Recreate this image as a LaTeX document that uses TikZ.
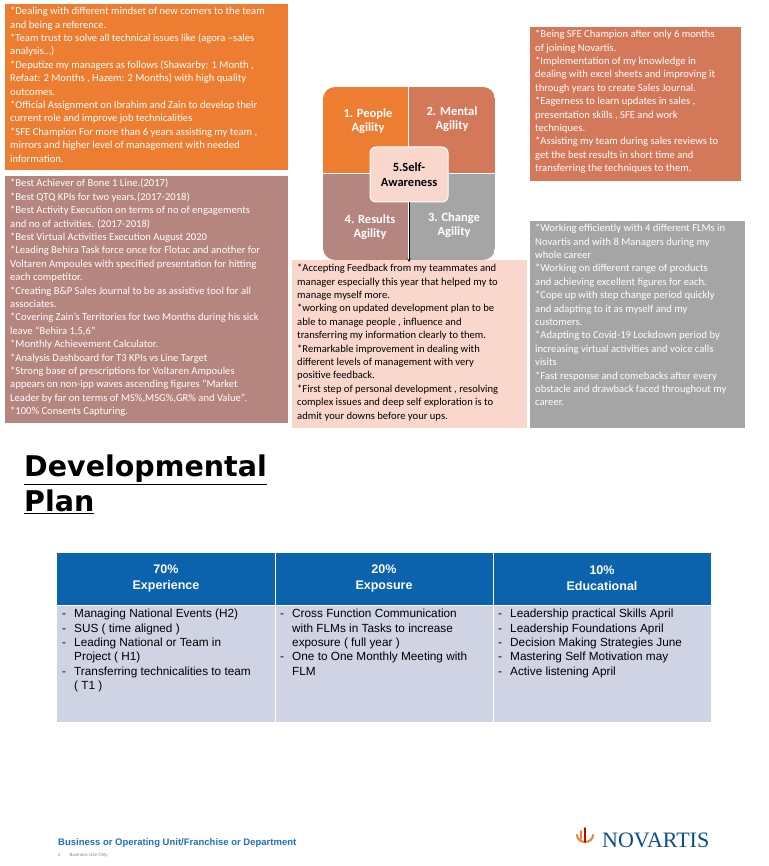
\documentclass[tikz,border=0pt]{standalone}
\usepackage{fontspec}
\setmainfont{Carlito}
\newfontfamily\arial{Liberation Sans}
\newfontfamily\dejavu{DejaVu Sans}
\definecolor{corange}{HTML}{ED7D31}
\definecolor{cmauve}{HTML}{B5857F}
\definecolor{csalmon}{HTML}{D4785A}
\definecolor{cgray}{HTML}{A5A5A5}
\definecolor{cpink}{HTML}{F9D7CC}
\definecolor{cblue}{HTML}{0B63AD}
\definecolor{cbody}{HTML}{CFD3E4}
\definecolor{cfoot}{HTML}{1F6FC0}
\newcommand{\dsh}{\makebox[12pt][l]{-}}
\newcommand{\nodsh}{\hspace*{12pt}}
\tikzset{
 btext/.style={anchor=north west,inner sep=0pt,align=left,font=\fontsize{10.6}{13.4}\selectfont},
 quad/.style={font=\bfseries\fontsize{12.5}{14.5}\selectfont,white,align=center},
 cell/.style={anchor=north west,inner sep=0pt,align=left,font=\arial\fontsize{11.8}{14.4}\selectfont},
 head/.style={font=\arial\bfseries\fontsize{12.5}{16}\selectfont,white,align=center}
}
\begin{document}
\begin{tikzpicture}[x=1pt,y=-1pt]
\useasboundingbox (0,0) rectangle (768,866);
% left boxes
\fill[corange] (5,4) rectangle (288,170);
\node[btext,white] (t1) at (10,7) {*Dealing with different mindset of new comers to the team\\and being a reference.\\*Team trust to solve all technical issues like (agora --sales\\analysis…)\\*Deputize my managers as follows (Shawarby: 1 Month ,\\Refaat: 2 Months , Hazem: 2 Months) with high quality\\outcomes.\\*Official Assignment on Ibrahim and Zain to develop their\\current role and improve job technicalities\\*SFE Champion For more than 6 years assisting my team ,\\mirrors and higher level of management with needed\\information.};
\fill[cmauve] (5,176) rectangle (288,423);
\node[btext,white] (t2) at (10,179) {*Best Achiever of Bone 1 Line.(2017)\\*Best QTQ KPIs for two years.(2017-2018)\\*Best Activity Execution on terms of no of engagements\\and no of activities. (2017-2018)\\*Best Virtual Activities Execution August 2020\\*Leading Behira Task force once for Flotac and another for\\Voltaren Ampoules with specified presentation for hitting\\each competitor.\\*Creating B\&P Sales Journal to be as assistive tool for all\\associates.\\*Covering Zain’s Territories for two Months during his sick\\leave “Behira 1,5,6”\\*Monthly Achievement Calculator.\\*Analysis Dashboard for T3 KPIs vs Line Target\\*Strong base of prescriptions for Voltaren Ampoules\\appears on non-ipp waves ascending figures “Market\\Leader by far on terms of MS\%,MSG\%,GR\% and Value”.\\*100\% Consents Capturing.};
% right boxes
\fill[csalmon] (530,27) rectangle (741,181);
\node[btext,white] (t3) at (535,30) {*Being SFE Champion after only 6 months\\of joining Novartis.\\*Implementation of my knowledge in\\dealing with excel sheets and improving it\\through years to create Sales Journal.\\*Eagerness to learn updates in sales ,\\presentation skills , SFE and work\\techniques.\\*Assisting my team during sales reviews to\\get the best results in short time and\\transferring the techniques to them.};
\fill[cgray] (530,221) rectangle (745,428);
\node[btext,white] (t4) at (535,224) {*Working efficiently with 4 different FLMs in\\Novartis and with 8 Managers during my\\whole career\\*Working on different range of products\\and achieving excellent figures for each.\\*Cope up with step change period quickly\\and adapting to it as myself and my\\customers.\\*Adapting to Covid-19 Lockdown period by\\increasing virtual activities and voice calls\\visits\\*Fast response and comebacks after every\\obstacle and drawback faced throughout my\\career.};
\fill[cpink] (292,260) rectangle (527,428);
\node[btext,black] (t5) at (297,264) {*Accepting Feedback from my teammates and\\manager especially this year that helped my to\\manage myself more.\\*working on updated development plan to be\\able to manage people , influence and\\transferring my information clearly to them.\\*Remarkable improvement in dealing with\\different levels of management with very\\positive feedback.\\*First step of personal development , resolving\\complex issues and deep self exploration is to\\admit your downs before your ups.};
% quadrant
\begin{scope}
\clip[rounded corners=12pt] (323,87) rectangle (495,260);
\fill[corange] (323,87) rectangle (408,174);
\fill[csalmon] (408,87) rectangle (495,174);
\fill[cmauve] (323,174) rectangle (408,260);
\fill[cgray] (408,174) rectangle (495,260);
\draw[white,line width=1pt] (408,87) -- (408,260) (323,174) -- (495,174);
\end{scope}
\node[quad] (q1) at (368,121) {1. People\\Agility};
\node[quad] (q2) at (452,119) {2. Mental\\Agility};
\node[quad] (q4) at (370,227) {4. Results\\Agility};
\node[quad] (q3) at (454,225) {3. Change\\Agility};
\node[draw=white,line width=1pt,fill=cpink,rounded corners=6pt,minimum width=78pt,minimum height=55pt,font=\bfseries\fontsize{12.5}{14.5}\selectfont,align=center] (c) at (409,174.5) {5.Self-\\Awareness};
\coordinate (ae) at (409,262);
\draw[-stealth,black,line width=0.6pt] (c.south) -- (ae);
% title
\node[anchor=north west,inner sep=0pt,align=left,font=\dejavu\bfseries\fontsize{28.5}{35}\selectfont] (title) at (24,455) {\underline{Developmental}\\\underline{Plan}};
% table
\fill[cblue] (57,553) rectangle (711,605);
\fill[cbody] (57,605) rectangle (711,722);
\draw[white,line width=1pt] (275,553) -- (275,722) (493,553) -- (493,722) (57,605) -- (711,605);
\node[head] (h1) at (166,578) {70\%\\Experience};
\node[head] (h2) at (384,578) {20\%\\Exposure};
\node[head] (h3) at (602,578) {10\%\\Educational};
\node[cell] (c1) at (62,609) {\dsh Managing National Events (H2)\\\dsh SUS ( time aligned )\\\dsh Leading National or Team in\\\nodsh Project ( H1)\\\dsh Transferring technicalities to team\\\nodsh ( T1 )};
\node[cell] (c2) at (280,609) {\dsh Cross Function Communication\\\nodsh with FLMs in Tasks to increase\\\nodsh exposure ( full year )\\\dsh One to One Monthly Meeting with\\\nodsh FLM};
\node[cell] (c3) at (498,609) {\dsh Leadership practical Skills April\\\dsh Leadership Foundations April\\\dsh Decision Making Strategies June\\\dsh Mastering Self Motivation may\\\dsh Active listening April};
% footer
\node[anchor=west,inner sep=0pt,text=cfoot,font=\arial\bfseries\fontsize{9.5}{10}\selectfont] (f1) at (58,843) {Business or Operating Unit/Franchise or Department};
\node[anchor=west,inner sep=0pt,text=gray,font=\arial\fontsize{4.5}{5}\selectfont] (f2) at (58,855) {2\qquad Business Use Only};
\node[anchor=west,inner sep=0pt,text=cblue!80!black,font=\fontspec{Liberation Serif}\fontsize{22}{24}\selectfont] (nv) at (602,840) {NOVARTIS};
\draw[corange,line width=2pt,line cap=round] (577,835) arc (180:360:8pt and 7pt);
\draw[red!80!black,line width=1.8pt,line cap=round] (585,828) -- (585,842);
\draw[corange,line width=1.6pt,line cap=round] (581,831) -- (581,839);
\end{tikzpicture}
\end{document}
